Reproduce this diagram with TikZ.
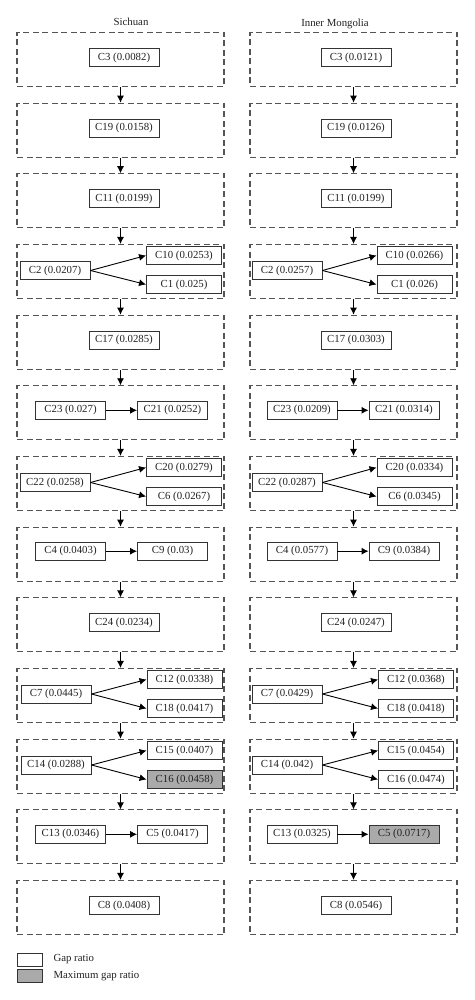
\documentclass[tikz,border=0pt]{standalone}
\usepackage{fontspec}
\setmainfont{Liberation Serif}
\usetikzlibrary{arrows.meta}
\definecolor{boxgray}{HTML}{555555}
\definecolor{nodeline}{HTML}{333333}
\definecolor{maxfill}{HTML}{AAAAAA}
\definecolor{txt}{HTML}{222222}
\tikzset{
  x=1pt, y=-1pt,
  every node/.style={font=\fontsize{10.8}{12}\selectfont, text=txt},
  grp/.style={draw=boxgray, line width=1.1pt, dash pattern=on 6pt off 3.5pt, minimum width=207pt, minimum height=54pt, inner sep=0pt},
  cnode/.style={draw=nodeline, line width=0.9pt, fill=white, minimum width=70pt, minimum height=18pt, inner sep=1pt},
  tnode/.style={cnode, minimum width=75pt},
  maxnode/.style={fill=maxfill},
  arr/.style={-{Latex[length=7pt,width=7pt]}, line width=0.9pt, black},
}
\begin{document}
\begin{tikzpicture}
\useasboundingbox (0,0) rectangle (474,1000);
% titles
\node (tL) at (131,22) {Sichuan};
\node (tR) at (335,24) {Inner Mongolia};
% group boxes
\foreach \i/\c in {0/59.5,1/130.2,2/200.8,3/271.5,4/342.2,5/412.8,6/483.5,7/554.2,8/624.9,9/695.5,10/766.2,11/836.9,12/907.5}{
  \node[grp] (GL\i) at (120.5,\c) {};
  \node[grp] (GR\i) at (353.5,\c) {};
}
\foreach \i [evaluate=\i as \j using int(\i+1)] in {0,...,11}{
  \draw[arr] (GL\i) -- (GL\j);
  \draw[arr] (GR\i) -- (GR\j);
}
% ---- Sichuan ----
\node[cnode] (L0) at (124,57.5) {C3 (0.0082)};
\node[cnode] (L1) at (124,128.2) {C19 (0.0158)};
\node[cnode] (L2) at (124,198.8) {C11 (0.0199)};
\node[cnode] (L3) at (55,270.5) {C2 (0.0207)};
\node[tnode] (L3a) at (184,255.5) {C10 (0.0253)};
\node[tnode] (L3b) at (184,284.5) {C1 (0.025)};
\node[cnode] (L4) at (124,340.2) {C17 (0.0285)};
\node[cnode] (L5) at (70.5,410.3) {C23 (0.027)};
\node[cnode] (L5a) at (172.5,410.3) {C21 (0.0252)};
\node[cnode] (L6) at (55,482.5) {C22 (0.0258)};
\node[tnode] (L6a) at (184,467.5) {C20 (0.0279)};
\node[tnode] (L6b) at (184,496.5) {C6 (0.0267)};
\node[cnode] (L7) at (70.5,551.2) {C4 (0.0403)};
\node[cnode] (L7a) at (172.5,551.2) {C9 (0.03)};
\node[cnode] (L8) at (124,622.4) {C24 (0.0234)};
\node[cnode] (L9) at (56,694) {C7 (0.0445)};
\node[tnode] (L9a) at (184.5,679.5) {C12 (0.0338)};
\node[tnode] (L9b) at (184.5,708.5) {C18 (0.0417)};
\node[cnode] (L10) at (56,765) {C14 (0.0288)};
\node[tnode] (L10a) at (184.5,750.5) {C15 (0.0407)};
\node[tnode,maxnode] (L10b) at (184.5,779.5) {C16 (0.0458)};
\node[cnode] (L11) at (70.5,834.3) {C13 (0.0346)};
\node[cnode] (L11a) at (172.5,834.3) {C5 (0.0417)};
\node[cnode] (L12) at (124,905.5) {C8 (0.0408)};
% ---- Inner Mongolia ----
\node[cnode] (R0) at (356,57.5) {C3 (0.0121)};
\node[cnode] (R1) at (356,128.2) {C19 (0.0126)};
\node[cnode] (R2) at (356,198.8) {C11 (0.0199)};
\node[cnode] (R3) at (287,270.5) {C2 (0.0257)};
\node[tnode] (R3a) at (414.5,255.5) {C10 (0.0266)};
\node[tnode] (R3b) at (414.5,284.5) {C1 (0.026)};
\node[cnode] (R4) at (356,340.2) {C17 (0.0303)};
\node[cnode] (R5) at (302,410.3) {C23 (0.0209)};
\node[cnode] (R5a) at (404,410.3) {C21 (0.0314)};
\node[cnode] (R6) at (287,482.5) {C22 (0.0287)};
\node[tnode] (R6a) at (414.5,467.5) {C20 (0.0334)};
\node[tnode] (R6b) at (414.5,496.5) {C6 (0.0345)};
\node[cnode] (R7) at (302,551.2) {C4 (0.0577)};
\node[cnode] (R7a) at (404,551.2) {C9 (0.0384)};
\node[cnode] (R8) at (356,622.4) {C24 (0.0247)};
\node[cnode] (R9) at (287,694) {C7 (0.0429)};
\node[tnode] (R9a) at (416,679.5) {C12 (0.0368)};
\node[tnode] (R9b) at (416,708.5) {C18 (0.0418)};
\node[cnode] (R10) at (287,765) {C14 (0.042)};
\node[tnode] (R10a) at (416,750.5) {C15 (0.0454)};
\node[tnode] (R10b) at (416,779.5) {C16 (0.0474)};
\node[cnode] (R11) at (302,834.3) {C13 (0.0325)};
\node[cnode,maxnode] (R11a) at (404,834.3) {C5 (0.0717)};
\node[cnode] (R12) at (356,905.5) {C8 (0.0546)};
% inner connectors
\foreach \s in {L,R}{
  \foreach \k in {3,6,9,10}{
    \draw[arr] (\s\k.east) -- (\s\k a.west);
    \draw[arr] (\s\k.east) -- (\s\k b.west);
  }
  \foreach \k in {5,7,11}{
    \draw[arr] (\s\k) -- (\s\k a);
  }
}
% legend
\node[draw=nodeline, line width=0.9pt, minimum width=25pt, minimum height=13pt, inner sep=0pt] (leg1) at (29.5,959.5) {};
\node[draw=nodeline, line width=0.9pt, fill=maxfill, minimum width=25pt, minimum height=13pt, inner sep=0pt] (leg2) at (29.5,976) {};
\node[anchor=west] (leg1t) at (50,959) {Gap ratio};
\node[anchor=west] (leg2t) at (50,976) {Maximum gap ratio};
\end{tikzpicture}
\end{document}
